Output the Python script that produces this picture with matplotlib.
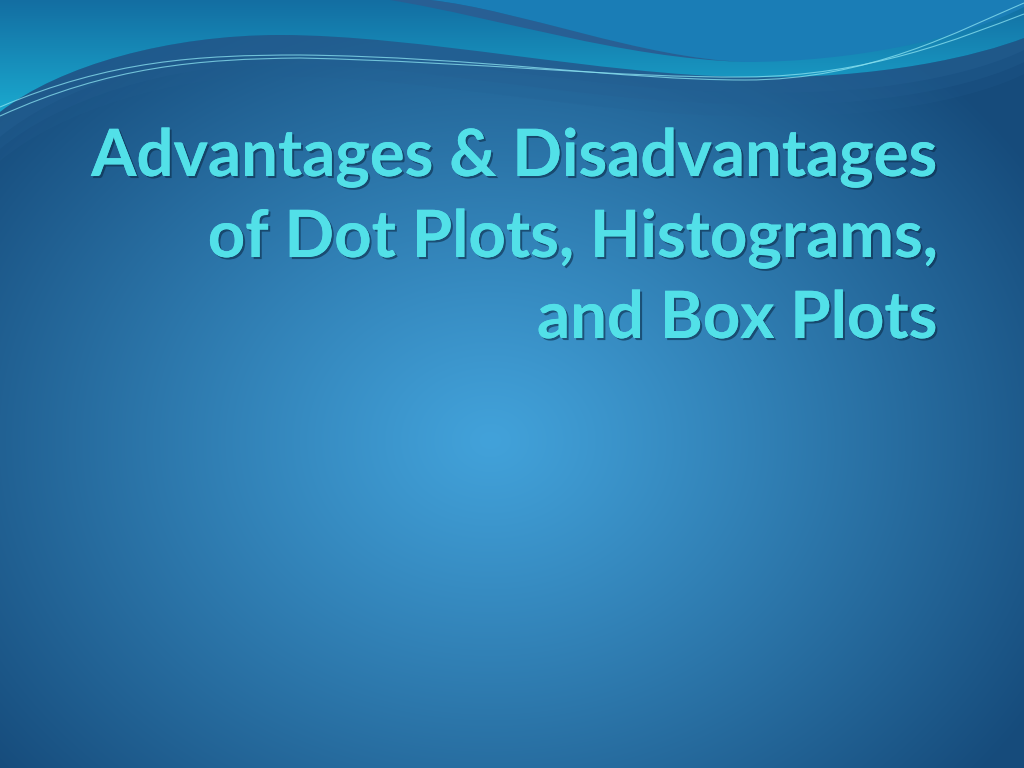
import numpy as np
import matplotlib
matplotlib.use("Agg")
import matplotlib.pyplot as plt
from matplotlib.path import Path
from matplotlib.patches import PathPatch
import matplotlib.patheffects as pe

# Title lines and their baselines (pixels from top)
title_lines = ["Advantages & Disadvantages", "of Dot Plots, Histograms,", "and Box Plots"]
baselines = [176, 257, 338]
title_right = 937

W, H = 1024, 768

fig = plt.figure(figsize=(10.24, 7.68), dpi=100)
ax = fig.add_axes([0, 0, 1, 1])
ax.set_xlim(0, W)
ax.set_ylim(H, 0)
ax.axis("off")


def hex2rgb(h):
    h = h.lstrip("#")
    return np.array([int(h[i:i + 2], 16) / 255 for i in (0, 2, 4)])


# Step 1: radial gradient body
yy, xx = np.mgrid[0:H, 0:W]
d = np.sqrt(((xx - 490) / 640.0) ** 2 + ((yy - 440) / 520.0) ** 2)
d = np.clip(d, 0, 1) ** 1.1
c0 = hex2rgb("#42a2da")
c1 = hex2rgb("#164b7b")
bg = c0[None, None, :] * (1 - d[..., None]) + c1[None, None, :] * d[..., None]
ax.imshow(bg, extent=[0, W, H, 0], zorder=0, aspect="auto")

# Step 2: waves at the top
M, C = Path.MOVETO, Path.CURVE4
L, CL = Path.LINETO, Path.CLOSEPOLY

# soft dark band under the teal wave
for k, a in enumerate([0.45, 0.3, 0.2]):
    off = 12 * (k + 1)
    verts = [(0, 112), (60, 65), (170, 35), (280, 35),
             (420, 35), (600, 75), (745, 77),
             (880, 80), (980, 55), (1024, 38),
             (1024, 38 + off), (980, 60 + off), (880, 85 + off), (745, 80 + off),
             (600, 80 + off), (420, 40 + off), (280, 40 + off),
             (170, 40 + off), (60, 75 + off), (0, 125 + off), (0, 112)]
    codes = [M, C, C, C, C, C, C, C, C, C, L, C, C, C, C, C, C, C, C, C, CL]
    ax.add_patch(PathPatch(Path(verts, codes), facecolor="#245f92", edgecolor="none",
                           alpha=a, zorder=1))

# teal wave region
teal_verts = [(0, 0), (W, 0), (W, 38),
              (980, 55), (880, 80), (745, 77),
              (600, 75), (420, 35), (280, 35),
              (170, 35), (60, 65), (0, 112), (0, 0)]
teal_codes = [M, L, L, C, C, C, C, C, C, C, C, C, CL]
teal = PathPatch(Path(teal_verts, teal_codes), facecolor="none", edgecolor="none")
ax.add_patch(teal)
t = np.clip(yy[:130] / 110.0, 0, 1)
ca, cb = hex2rgb("#136ea2"), hex2rgb("#1aa8ce")
tg = ca[None, None, :] * (1 - t[..., None]) + cb[None, None, :] * t[..., None]
im = ax.imshow(tg, extent=[0, W, 130, 0], zorder=2, aspect="auto")
im.set_clip_path(teal)

# blue region top right
blue_verts = [(430, 0), (W, 0), (W, 7),
              (960, 40), (850, 62), (745, 62),
              (640, 58), (520, 10), (430, 0)]
blue_codes = [M, L, L, C, C, C, C, C, CL]
ax.add_patch(PathPatch(Path(blue_verts, blue_codes), facecolor="#1a7db6",
                       edgecolor="none", zorder=3))

# dark stripe
stripe_verts = [(430, 0), (520, 10), (640, 58), (745, 62),
                (620, 58), (500, 18), (390, 0), (430, 0)]
stripe_codes = [M, C, C, C, C, C, C, CL]
ax.add_patch(PathPatch(Path(stripe_verts, stripe_codes), facecolor="#285f94",
                       edgecolor="none", zorder=3))

# thin light lines
line_sets = [
    [(0, 107), (110, 60), (200, 55), (300, 55), (480, 57), (620, 80), (745, 80), (870, 80), (960, 30), (1024, 3)],
    [(0, 116), (110, 66), (200, 59), (300, 58), (480, 62), (620, 78), (745, 77), (870, 76), (960, 38), (1024, 14)],
]
for pts in line_sets:
    codes = [M] + [C] * (len(pts) - 1)
    ax.add_patch(PathPatch(Path(pts, codes), facecolor="none", edgecolor="#8ce4f2",
                           linewidth=0.8, alpha=0.75, zorder=4))

# Step 3: title text
shadow = [pe.withSimplePatchShadow(offset=(1.5, -1.5), shadow_rgbFace="#0b2c48", alpha=0.6),
          pe.Normal()]
for line, yb in zip(title_lines, baselines):
    ax.text(title_right, yb, line, ha="right", va="baseline", fontsize=47,
            family="Lato", fontweight="bold", color="#52e0e8",
            path_effects=shadow, zorder=5)

fig.savefig("out.png", dpi=100)
